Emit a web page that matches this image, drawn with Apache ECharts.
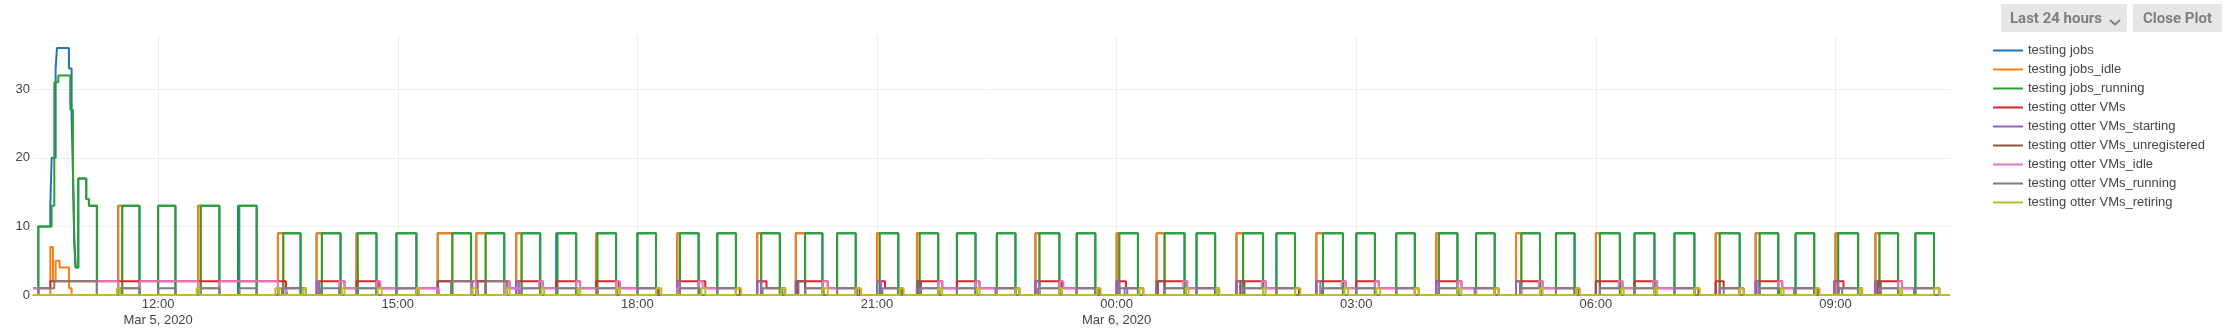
<!DOCTYPE html>
<html><head><meta charset="utf-8">
<script src="https://cdn.jsdelivr.net/npm/echarts@6/dist/echarts.min.js"></script>
<style>html,body{margin:0;padding:0;background:#fff}#c{width:2226px;height:333px}</style>
</head><body><div id="c"></div>
<script>
// X axis: minutes after Mar 5 2020 10:26 ("Last 24 hours")
const axisSpanMinutes = 1440;
const xTickMinutes = [94, 274, 454, 634, 814, 994, 1174, 1354];
const xTickLabels = ['12:00\nMar 5, 2020', '15:00', '18:00', '21:00', '00:00\nMar 6, 2020', '03:00', '06:00', '09:00'];
const yTickLabels = ['0', '10', '20', '30'];

const seriesNames = ['testing jobs','testing jobs_idle','testing jobs_running','testing otter VMs','testing otter VMs_starting','testing otter VMs_unregistered','testing otter VMs_idle','testing otter VMs_running','testing otter VMs_retiring'];

// Change points: [minutes after axis start, value]; value holds until the next point
const jobs = [[0,0],[4,10],[13,13],[14,20],[17,33],[18,36],[27,33],[29,26],[30,18],[31,8],[32,4],[34,17],[40,14],[42,13],[48,0],
[64,13],[80,0],[94,13],[107,0],[124,13],[140,0],[154,13],[168,0],[184,9],[201,0],[213,9],[231,0],[243,9],[258,0],[273,9],[288,0],[304,9],[329,0],[333,9],[354,0],[363,9],[381,0],[393,9],[408,0],[423,9],[438,0],[454,9],[468,0],[484,9],[500,0],[514,9],[528,0],[544,9],[561,0],[573,9],[593,0],[604,9],[618,0],[634,9],[650,0],[664,9],[680,0],[694,9],[708,0],[724,9],[738,0],[753,9],[771,0],[784,9],[798,0],[814,9],[830,0],[844,9],[865,0],[874,9],[888,0],[904,9],[924,0],[934,9],[948,0],[964,9],[984,0],[994,9],[1008,0],[1024,9],[1038,0],[1054,9],[1070,0],[1084,9],[1098,0],[1114,9],[1132,0],[1144,9],[1158,0],[1174,9],[1192,0],[1203,9],[1218,0],[1233,9],[1248,0],[1264,9],[1282,0],[1294,9],[1311,0],[1324,9],[1338,0],[1354,9],[1371,0],[1384,9],[1401,0],[1414,9],[1428,0],[1440,0]];

const jobsIdle = [[0,0],[13,7],[15,2],[17,5],[20,4],[27,1],[29,0],[64,13],[67,0],[124,13],[126,0],[184,9],[188,0],[213,9],[217,0],[243,9],[244,0],[304,9],[315,0],[333,9],[340,0],[363,9],[367,0],[423,9],[424,0],[484,9],[486,0],[544,9],[547,0],[573,9],[580,0],[634,9],[636,0],[664,9],[666,0],[753,9],[756,0],[814,9],[816,0],[844,9],[850,0],[904,9],[909,0],[964,9],[969,0],[1054,9],[1056,0],[1114,9],[1118,0],[1174,9],[1177,0],[1264,9],[1267,0],[1294,9],[1297,0],[1354,9],[1356,0],[1384,9],[1387,0],[1440,0]];

const jobsRunning = [[0,0],[4,10],[14,13],[16,31],[19,32],[28,27],[30,18],[31,8],[32,4],[34,17],[40,14],[42,13],[48,0],[67,13],[80,0],[94,13],[107,0],[126,13],[140,0],[155,13],[168,0],[188,9],[201,0],[217,9],[231,0],[244,9],[258,0],[273,9],[288,0],[315,9],[329,0],[340,9],[354,0],[367,9],[381,0],[394,9],[408,0],[424,9],[438,0],[454,9],[468,0],[486,9],[500,0],[514,9],[528,0],[547,9],[561,0],[580,9],[593,0],[604,9],[618,0],[636,9],[650,0],[666,9],[680,0],[694,9],[708,0],[724,9],[738,0],[756,9],[771,0],[784,9],[798,0],[816,9],[830,0],[850,9],[865,0],[874,9],[888,0],[909,9],[924,0],[934,9],[948,0],[969,9],[984,0],[994,9],[1008,0],[1024,9],[1038,0],[1056,9],[1070,0],[1084,9],[1098,0],[1118,9],[1132,0],[1144,9],[1158,0],[1177,9],[1192,0],[1203,9],[1218,0],[1233,9],[1248,0],[1267,9],[1282,0],[1297,9],[1311,0],[1324,9],[1338,0],[1356,9],[1371,0],[1387,9],[1401,0],[1414,9],[1428,0],[1440,0]];

const otterVMs = [[0,1],[13,2],[190,1],[205,0],[215,2],[234,1],[243,2],[260,1],[304,2],[358,1],[363,2],[383,1],[393,2],[411,1],[423,2],[440,1],[470,0],[484,2],[505,1],[531,0],[544,2],[551,1],[565,0],[573,2],[597,1],[621,0],[634,2],[640,1],[653,0],[664,2],[683,1],[694,2],[711,1],[741,0],[753,2],[773,1],[801,0],[814,2],[821,1],[834,0],[844,2],[867,1],[891,0],[904,2],[926,1],[951,0],[964,2],[986,1],[994,2],[1011,1],[1041,0],[1054,2],[1073,1],[1101,0],[1114,2],[1134,1],[1161,0],[1174,2],[1194,1],[1203,2],[1220,1],[1251,0],[1264,2],[1270,1],[1285,0],[1294,2],[1314,1],[1341,0],[1353,2],[1360,1],[1374,0],[1384,2],[1404,1],[1432,0],[1440,0]];

const vmsStarting = [[0,0],[124,1],[125,0],[190,1],[191,0],[213,2],[215,0],[304,2],[305,0],[333,2],[334,0],[363,2],[365,0],[484,2],[486,0],[544,2],[547,0],[573,2],[575,0],[634,2],[637,0],[664,2],[665,0],[753,2],[756,0],[814,2],[816,0],[820,1],[822,0],[844,2],[845,0],[904,2],[907,0],[964,2],[967,0],[1054,2],[1056,0],[1114,2],[1117,0],[1267,1],[1270,0],[1294,2],[1296,0],[1353,2],[1356,0],[1357,1],[1359,0],[1384,2],[1386,0],[1440,0]];

const vmsUnregistered = [[0,0],[304,2],[314,0],[334,2],[340,0],[574,2],[580,0],[665,2],[667,0],[845,2],[850,0],[907,2],[910,0],[1174,2],[1177,0],[1386,2],[1388,0],[1440,0]];

const vmsIdle = [[0,1],[4,0],[48,2],[64,1],[80,2],[124,1],[140,2],[184,1],[190,0],[230,2],[234,1],[258,2],[261,1],[304,0],[329,2],[333,1],[334,0],[354,2],[358,1],[380,2],[383,1],[408,2],[411,1],[438,2],[441,1],[454,0],[484,1],[500,2],[503,1],[514,0],[580,1],[593,2],[597,1],[604,0],[666,1],[680,2],[683,1],[708,2],[711,1],[724,0],[756,1],[771,2],[774,1],[784,0],[850,1],[864,2],[867,1],[874,0],[909,1],[923,2],[926,1],[934,0],[967,1],[983,2],[986,1],[1008,2],[1011,1],[1024,0],[1056,1],[1070,2],[1073,1],[1084,0],[1118,1],[1131,2],[1134,1],[1144,0],[1177,1],[1191,2],[1194,1],[1217,2],[1220,1],[1233,0],[1297,1],[1311,2],[1314,1],[1323,0],[1387,1],[1401,2],[1404,1],[1413,0],[1440,0]];

const vmsRunning = [[0,0],[4,1],[16,2],[48,0],[65,1],[80,0],[94,1],[107,0],[126,1],[140,0],[155,1],[168,0],[187,1],[205,0],[216,1],[230,0],[243,1],[258,0],[273,1],[289,0],[314,2],[330,0],[340,2],[356,0],[367,1],[381,0],[393,1],[409,0],[424,1],[439,0],[454,1],[469,0],[486,1],[501,0],[514,1],[528,0],[548,1],[563,0],[580,1],[594,0],[604,1],[619,0],[638,1],[652,0],[666,1],[681,0],[694,1],[709,0],[723,1],[738,0],[755,1],[771,0],[784,1],[799,0],[816,1],[831,0],[850,1],[866,0],[874,1],[889,0],[909,1],[924,0],[934,1],[948,0],[968,1],[985,0],[994,1],[1009,0],[1024,1],[1038,0],[1056,1],[1071,0],[1083,1],[1098,0],[1117,1],[1133,0],[1144,1],[1159,0],[1177,1],[1193,0],[1203,1],[1218,0],[1233,1],[1248,0],[1267,1],[1282,0],[1297,1],[1312,0],[1323,1],[1339,0],[1356,1],[1372,0],[1387,1],[1402,0],[1413,1],[1428,0],[1440,0]];

const vmsRetiring = [[0,0],[63,1],[65,0],[123,1],[125,0],[182,1],[185,0],[203,1],[205,0],[232,1],[234,0],[259,1],[262,0],[288,1],[290,0],[330,1],[333,0],[356,1],[358,0],[382,1],[384,0],[409,1],[411,0],[438,1],[441,0],[468,1],[472,0],[502,1],[505,0],[528,1],[532,0],[562,1],[565,0],[593,1],[597,0],[618,1],[622,0],[651,1],[654,0],[680,1],[683,0],[709,1],[711,0],[738,1],[741,0],[771,1],[773,0],[799,1],[802,0],[831,1],[834,0],[866,1],[868,0],[889,1],[891,0],[924,1],[926,0],[948,1],[952,0],[985,1],[988,0],[1009,1],[1012,0],[1038,1],[1041,0],[1070,1],[1073,0],[1098,1],[1101,0],[1132,1],[1134,0],[1159,1],[1162,0],[1193,1],[1195,0],[1218,1],[1220,0],[1248,1],[1252,0],[1282,1],[1285,0],[1313,1],[1315,0],[1339,1],[1342,0],[1372,1],[1374,0],[1402,1],[1404,0],[1428,1],[1432,0],[1440,0]];

const seriesValues = [jobs, jobsIdle, jobsRunning, otterVMs, vmsStarting, vmsUnregistered, vmsIdle, vmsRunning, vmsRetiring];
const seriesColors = ['#1f77b4','#ff7f0e','#2ca02c','#d62728','#9467bd','#8c564b','#e377c2','#7f7f7f','#bcbd22'];

const chart = echarts.init(document.getElementById('c'), null, {renderer: 'canvas'});
chart.setOption({
  animation: false,
  backgroundColor: '#fff',
  textStyle: {fontFamily: 'Liberation Sans, Arial, sans-serif'},
  grid: {left: 33, right: 276, top: 35, bottom: 38, containLabel: false},
  xAxis: {
    type: 'value', min: 0, max: axisSpanMinutes,
    axisLine: {show: true, lineStyle: {color: '#444', width: 1}},
    axisTick: {show: false, customValues: xTickMinutes},
    splitLine: {show: true, lineStyle: {color: '#eee', width: 1}},
    axisLabel: {
      customValues: xTickMinutes,
      color: '#444', fontSize: 13, lineHeight: 16, margin: 1,
      formatter: function (value) {
        const i = xTickMinutes.indexOf(Math.round(value));
        return i >= 0 ? xTickLabels[i] : '';
      }
    }
  },
  yAxis: {
    type: 'value', min: 0, max: 37.9, interval: 10,
    axisLine: {show: false}, axisTick: {show: false},
    splitLine: {show: true, showMaxLine: false, lineStyle: {color: '#eee', width: 1}},
    axisLabel: {
      showMaxLabel: false, color: '#444', fontSize: 13, margin: 3,
      formatter: v => { const i = Math.round(v / 10); return (Math.abs(v - i * 10) < 1e-6 && yTickLabels[i] !== undefined) ? yTickLabels[i] : ''; }
    }
  },
  legend: {
    orient: 'vertical', left: 1993, top: 41, padding: 0, itemGap: 0,
    icon: 'rect', itemWidth: 30, itemHeight: 2,
    textStyle: {color: '#444', fontSize: 13, lineHeight: 19, padding: [0, 0, 0, 0]},
    data: seriesNames
  },
  series: seriesNames.map((name, i) => ({
    name: name, type: 'line', step: 'end', showSymbol: false, symbol: 'none',
    color: seriesColors[i],
    lineStyle: {width: 2, color: seriesColors[i]},
    emphasis: {disabled: true},
    data: seriesValues[i]
  })),
  graphic: [
    {type: 'rect', shape: {x: 2001, y: 4, width: 126, height: 28}, style: {fill: '#e6e6e6'}},
    {type: 'text', x: 2010, y: 19, style: {text: 'Last 24 hours', font: 'bold 15px Roboto, Liberation Sans, sans-serif', fill: '#7f7f7f', verticalAlign: 'middle'}},
    {type: 'polyline', shape: {points: [[2110, 20], [2115, 24.5], [2120, 20]]}, style: {stroke: '#7f7f7f', lineWidth: 2, fill: null}},
    {type: 'rect', shape: {x: 2133, y: 4, width: 89, height: 28}, style: {fill: '#e6e6e6'}},
    {type: 'text', x: 2177.5, y: 19, style: {text: 'Close Plot', font: 'bold 15px Roboto, Liberation Sans, sans-serif', fill: '#7f7f7f', align: 'center', verticalAlign: 'middle'}}
  ]
});
</script>
</body></html>
